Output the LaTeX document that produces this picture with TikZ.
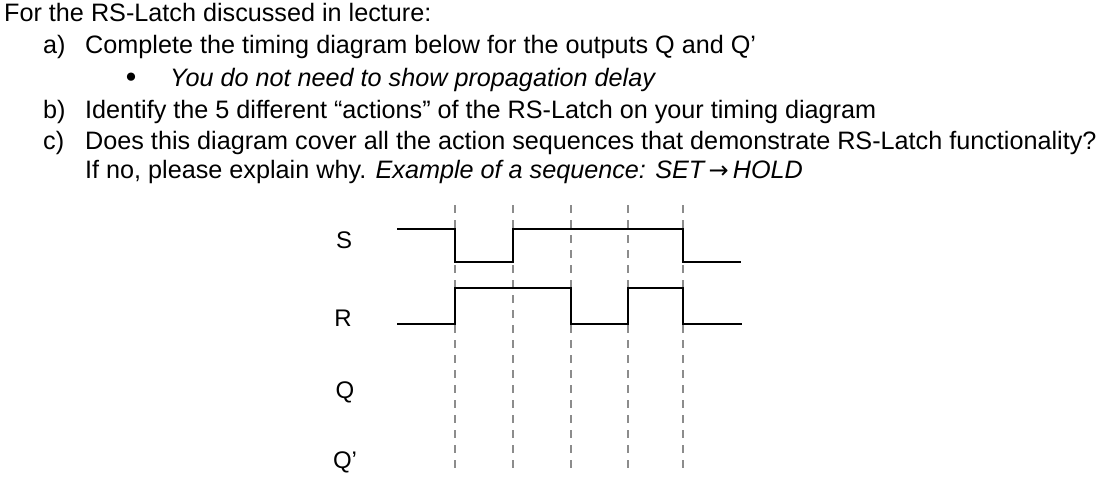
\documentclass[tikz,border=0pt]{standalone}
\usepackage{fontspec}
\setmainfont{Liberation Sans}
\newfontfamily\symfont{DejaVu Sans}
\begin{document}
\begin{tikzpicture}[x=1pt,y=-1pt,
  txt/.style={anchor=base west,inner sep=0pt,font=\fontsize{25.2}{30}\selectfont},
  lbl/.style={inner sep=0pt,font=\fontsize{24}{28}\selectfont},
  sig/.style={line width=1.8pt,black},
  guide/.style={line width=1.6pt,color=black!45,dash pattern=on 8pt off 7pt}]
\useasboundingbox (0,0) rectangle (1110,480);
% text
\node[txt] (l1) at (4,21) {For the RS-Latch discussed in lecture:};
\node[txt] (l2a) at (43,53) {a)};
\node[txt] (l2) at (85,53) {Complete the timing diagram below for the outputs Q and Q’};
\node[inner sep=0pt,font=\fontsize{19}{22}\selectfont] (l3b) at (131,78) {●};
\node[txt] (l3) at (170,86) {\itshape You do not need to show propagation delay};
\node[txt] (l4a) at (43,118) {b)};
\node[txt] (l4) at (85,118) {Identify the 5 different “actions” of the RS-Latch on your timing diagram};
\node[txt] (l5a) at (43,149) {c)};
\node[txt] (l5) at (85,149) {Does this diagram cover all the action sequences that demonstrate RS-Latch functionality?};
\node[txt] (l6) at (85,178) {If no, please explain why. \itshape Example of a sequence: SET\,{\upshape\symfont\fontsize{24}{28}\selectfont →}\,HOLD};
% labels
\node[lbl] (S) at (344,240) {S};
\node[lbl] (R) at (343,318) {R};
\node[lbl] (Q) at (345,392) {Q};
\node[lbl] (Qp) at (345,462) {Q’};
% guides
\foreach \x in {455,513,571,628,683} \draw[guide] (\x,205) -- (\x,470);
% S signal
\draw[sig] (397,229) -- (455,229) -- (455,262) -- (513,262) -- (513,229) -- (683,229) -- (683,262) -- (741,262);
% R signal
\draw[sig] (397,324) -- (455,324) -- (455,288) -- (571,288) -- (571,324) -- (628,324) -- (628,288) -- (683,288) -- (683,324) -- (742,324);
\end{tikzpicture}
\end{document}
